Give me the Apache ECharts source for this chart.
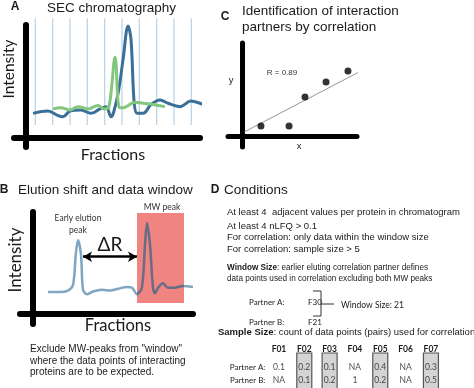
<!DOCTYPE html>
<html><head><meta charset="utf-8">
<script src="https://cdn.jsdelivr.net/npm/echarts@6/dist/echarts.min.js"></script>
<style>html,body{margin:0;padding:0;background:#fff}#c{width:474px;height:388px}</style>
</head><body><div id="c"></div>
<script>
// ---------- Panel A: SEC chromatography ----------
const aFractionLines = [1, 2, 3, 4, 5, 6, 7, 8, 9, 10];
const aBlueTrace = [[0.87,22],[1.73,24],[2.31,20],[2.6,19],[3.0,24],[3.64,25],[4.21,22],[4.73,26],[5.08,28],[5.37,19],[5.52,23],[5.8,42],[6.06,70],[6.35,100],[6.52,88],[6.7,32],[6.87,22],[7.22,22],[7.68,30],[8.2,34],[8.66,31],[9.35,28],[9.98,33],[10.5,31],[10.96,28]];
const aGreenTrace = [[2.02,26],[2.48,27],[3.0,25],[3.46,28],[4.04,26],[4.62,29],[4.96,26],[5.25,28],[5.6,72],[5.85,27],[6.06,27],[6.35,29],[6.75,32],[7.22,31],[7.79,30],[8.48,28]];

// ---------- Panel B: elution shift ----------
const bTrace = [[3.1,23.5],[5.5,23.5],[7.1,25],[8.1,31],[8.7,67],[9.1,80],[9.7,64],[10.1,26],[10.9,21],[12.1,24],[13.9,26],[15.5,25],[17.1,27],[18.9,29],[19.9,28],[20.9,21],[21.9,29],[22.5,75],[22.9,99],[23.5,75],[24.1,28],[24.5,22],[25.1,28],[26.1,33],[27.1,28],[28.1,28],[30.1,30],[32.1,29]];
const bWindow = [20.9, 30.3];
const bWindowLevels = [11.5, 109.8];
const bDeltaR = [10.1, 20.9];
const bDeltaRLevel = 62;

// ---------- Panel C: correlation ----------
const cX = [1.3, 3.26, 4.37, 5.84, 7.37];
const cY = [1.02, 1.02, 3.81, 5.25, 6.31];
const cTrendSlope = 0.72;
const cTrendIntercept = 0.35;
const cTrendRange = [0.12, 9.05];
const cR = 0.89;

// ---------- Panel D: conditions ----------
const dConditions = [
  'At least 4  adjacent values per protein in chromatogram',
  'At least 4 nLFQ > 0.1',
  'For correlation: only data within the window size',
  'For correlation: sample size > 5'
];
const dTableCols = ['F01','F02','F03','F04','F05','F06','F07'];
const dPartners = ['Partner A','Partner B'];
const dPartnerA = ['0.1','0.2','0.1','NA','0.4','NA','0.3'];
const dPartnerB = ['NA','0.1','0.2','1','0.2','NA','0.5'];
const dBoxedCols = ['F02','F03','F05','F07'];
const dWindowStart = ['F30','F21'];
const dWindowSize = 21;

const SANS = 'Liberation Sans';
const CAL = 'Lato';
const INK = '#1a1a1a';

function hiddenBits() {
  return { axisTick: { show: false }, axisLabel: { show: false }, splitLine: { show: false } };
}
function txt(x, y, text, size, opts) {
  opts = opts || {};
  return {
    type: 'text', x: x, y: y, rotation: opts.rot || 0, silent: true,
    style: {
      text: text, fontSize: size, fontFamily: opts.family || SANS,
      fontWeight: opts.bold ? 'bold' : 'normal', fill: opts.color || INK,
      align: opts.align || 'left', verticalAlign: 'middle',
      textAlign: opts.align || 'left', textVerticalAlign: 'middle',
      rich: opts.rich
    }
  };
}

const tableData = [];
dTableCols.forEach((c, i) => {
  tableData.push({ name: dPartnerA[i], value: [i, 0] });
  tableData.push({ name: dPartnerB[i], value: [i, 1] });
});

const option = {
  backgroundColor: '#fff',
  animation: false,
  grid: [
    { left: 14, top: 25, width: 186, height: 122 },
    { left: 228, top: 43, width: 129, height: 104 },
    { left: 20, top: 212, width: 173, height: 112 },
    { left: 266.3, top: 360.5, width: 177.3, height: 26 }
  ],
  xAxis: [
    Object.assign({ gridIndex: 0, type: 'value', min: -0.23, max: 10.5, offset: -9,
      axisLine: { onZero: false, lineStyle: { color: '#000', width: 6 } } }, hiddenBits()),
    Object.assign({ gridIndex: 1, type: 'value', min: -1, max: 8, offset: -10.5,
      axisLine: { onZero: false, lineStyle: { color: '#000', width: 5 } } }, hiddenBits()),
    Object.assign({ gridIndex: 2, type: 'value', min: -2.5, max: 32.1, offset: -10.5,
      axisLine: { onZero: false, lineStyle: { color: '#000', width: 6 } } }, hiddenBits()),
    { gridIndex: 3, type: 'category', data: dTableCols, position: 'top',
      axisLine: { show: false }, axisTick: { show: false }, splitLine: { show: false },
      axisLabel: { fontFamily: CAL, fontWeight: 'bold', fontSize: 8.5, color: INK, margin: 7 } }
  ],
  yAxis: [
    Object.assign({ gridIndex: 0, type: 'value', min: -8.04, max: 100.9, offset: -11.3,
      axisLine: { show: true, onZero: false, lineStyle: { color: '#000', width: 6 } } }, hiddenBits()),
    Object.assign({ gridIndex: 1, type: 'value', min: -1, max: 9, offset: -14.33,
      axisLine: { show: true, onZero: false, lineStyle: { color: '#000', width: 5 } } }, hiddenBits()),
    Object.assign({ gridIndex: 2, type: 'value', min: -11.5, max: 110.9, offset: -12.5,
      axisLine: { show: true, onZero: false, lineStyle: { color: '#000', width: 6 } } }, hiddenBits()),
    { gridIndex: 3, type: 'category', data: dPartners, inverse: true,
      axisLine: { show: false }, axisTick: { show: false }, splitLine: { show: false },
      axisLabel: { fontFamily: CAL, fontSize: 8, color: INK, margin: 1, formatter: v => v + ':' } }
  ],
  visualMap: [{
    type: 'piecewise', show: false, seriesIndex: 5, dimension: 0,
    pieces: [
      { lt: bWindow[0], color: '#7fa6c2' },
      { gte: bWindow[0], lte: bWindow[1], color: '#676c87' },
      { gt: bWindow[1], color: '#7fa6c2' }
    ]
  }],
  series: [
    { // A: fraction grid lines
      type: 'custom', xAxisIndex: 0, yAxisIndex: 0, silent: true, clip: false,
      data: aFractionLines.map(f => [f, 0]), encode: { x: 0, y: 1 },
      renderItem: (params, api) => {
        const f = api.value(0);
        const p1 = api.coord([f, 107]);
        const p2 = api.coord([f, 11.6]);
        return { type: 'line', shape: { x1: p1[0], y1: p1[1], x2: p2[0], y2: p2[1] },
          style: { stroke: '#bcd5e8', lineWidth: 1.3 } };
      }
    },
    { type: 'line', xAxisIndex: 0, yAxisIndex: 0, data: aBlueTrace, smooth: 0.35, clip: false,
      showSymbol: false, symbol: 'none', lineStyle: { color: '#3a6f98', width: 3 }, silent: true },
    { type: 'line', xAxisIndex: 0, yAxisIndex: 0, data: aGreenTrace, smooth: 0.35, clip: false,
      showSymbol: false, symbol: 'none', lineStyle: { color: '#82c77d', width: 3 }, silent: true },
    { type: 'scatter', xAxisIndex: 1, yAxisIndex: 1, data: cX.map((x, i) => [x, cY[i]]),
      symbolSize: 7, itemStyle: { color: '#000' }, z: 4, silent: true },
    { type: 'line', xAxisIndex: 1, yAxisIndex: 1, clip: false, silent: true,
      data: cTrendRange.map(x => [x, cTrendIntercept + cTrendSlope * x]),
      showSymbol: false, symbol: 'none', lineStyle: { color: '#7a7a7a', width: 0.8 } },
    { type: 'line', xAxisIndex: 2, yAxisIndex: 2, data: bTrace, smooth: 0.3, clip: false,
      showSymbol: false, symbol: 'none', lineStyle: { width: 2.5 }, silent: true,
      markArea: { silent: true, itemStyle: { color: '#f08480' },
        data: [[{ xAxis: bWindow[0], yAxis: bWindowLevels[0] }, { xAxis: bWindow[1], yAxis: bWindowLevels[1] }]] },
      markLine: { silent: true, symbol: ['arrow', 'arrow'], symbolSize: [8, 9],
        lineStyle: { color: '#000', width: 2.5, type: 'solid' }, itemStyle: { color: '#000' },
        label: { show: true, formatter: 'ΔR', position: 'insideMiddleTop', distance: 2,
          fontFamily: CAL, fontSize: 19, color: INK },
        data: [[{ coord: [bDeltaR[0], bDeltaRLevel] }, { coord: [bDeltaR[1], bDeltaRLevel] }]] }
    },
    { // D: boxes around used pairs
      type: 'custom', xAxisIndex: 3, yAxisIndex: 3, silent: true, clip: false, z: 1,
      data: dBoxedCols.map(c => [dTableCols.indexOf(c), 0]), encode: { x: 0, y: 1 },
      renderItem: (params, api) => {
        const ci = api.value(0);
        const a = api.coord([ci, 0]);
        const b = api.coord([ci, 1]);
        const w = 15;
        return { type: 'rect', shape: { x: a[0] - w / 2, y: a[1] - 14, width: w, height: b[1] - a[1] + 28 },
          style: { fill: '#d4d4d4', stroke: '#555', lineWidth: 1.2 } };
      }
    },
    { type: 'scatter', xAxisIndex: 3, yAxisIndex: 3, data: tableData, symbolSize: 1, z: 3, silent: true,
      itemStyle: { color: 'rgba(0,0,0,0)' },
      label: { show: true, position: 'inside', formatter: '{b}', fontFamily: CAL, fontSize: 8.5, color: INK } }
  ],
  graphic: [
    // Panel A
    txt(15, 7, 'A', 12, { bold: true, align: 'center' }),
    txt(47, 8, 'SEC chromatography', 13.5),
    txt(9, 69, 'Intensity', 15.5, { family: CAL, align: 'center', rot: Math.PI / 2 }),
    txt(113, 155, 'Fractions', 16, { family: CAL, align: 'center' }),
    // Panel C
    txt(225, 17, 'C', 12, { bold: true, align: 'center' }),
    txt(242, 11, 'Identification of interaction', 13.5),
    txt(242, 27, 'partners by correlation', 13.5),
    txt(282, 73, 'R = ' + cR.toFixed(2), 8, { align: 'center', color: '#333' }),
    txt(231, 80, 'y', 9.5, { align: 'center' }),
    txt(299, 146, 'x', 9.5, { align: 'center' }),
    // Panel B
    txt(4, 190, 'B', 12, { bold: true, align: 'center' }),
    txt(18, 190, 'Elution shift and data window', 13.5),
    txt(78, 218, 'Early elution', 8.5, { family: CAL, align: 'center', color: '#333' }),
    txt(78, 230, 'peak', 8.5, { family: CAL, align: 'center', color: '#333' }),
    txt(162, 207, 'MW peak', 8.5, { family: CAL, align: 'center', color: '#333' }),
    txt(16, 260, 'Intensity', 17, { family: CAL, align: 'center', rot: Math.PI / 2 }),
    txt(118, 326, 'Fractions', 16.5, { family: CAL, align: 'center' }),
    txt(30, 349, 'Exclude MW-peaks from "window"', 10),
    txt(30, 361, 'where the data points of interacting', 10),
    txt(30, 372, 'proteins are to be expected.', 10),
    // Panel D
    txt(215, 190, 'D', 12, { bold: true, align: 'center' }),
    txt(224, 190, 'Conditions', 13.5),
    ...dConditions.map((s, i) => txt(227, [212, 226, 237.5, 249][i], s, 9.5)),
    txt(227, 268, '{b|Window Size}: earlier eluting correlation partner defines', 8.2,
      { rich: { b: { fontWeight: 'bold', fontSize: 8.2, fontFamily: SANS, fill: INK } } }),
    txt(227, 279, 'data points used in correlation excluding both MW peaks', 8.2),
    txt(249, 302, 'Partner A:', 8, { family: CAL }),
    txt(308, 302, dWindowStart[0], 8, { family: CAL }),
    txt(249, 322, 'Partner B:', 8, { family: CAL }),
    txt(308, 322, dWindowStart[1], 8, { family: CAL }),
    txt(341, 305, 'Window Size: ' + dWindowSize, 8.5, { family: CAL }),
    { type: 'polyline', silent: true, shape: { points: [[313, 291], [321, 291], [321, 316], [313, 316]] },
      style: { stroke: '#333', lineWidth: 1, fill: null } },
    { type: 'line', silent: true, shape: { x1: 321, y1: 304, x2: 334, y2: 304 }, style: { stroke: '#333', lineWidth: 1 } },
    txt(218, 332, '{b|Sample Size}: count of data points (pairs) used for correlation', 9.5,
      { rich: { b: { fontWeight: 'bold', fontSize: 9.5, fontFamily: SANS, fill: INK } } })
  ]
};

const chart = echarts.init(document.getElementById('c'), null, { renderer: 'canvas' });
chart.setOption(option);
</script>
</body></html>
